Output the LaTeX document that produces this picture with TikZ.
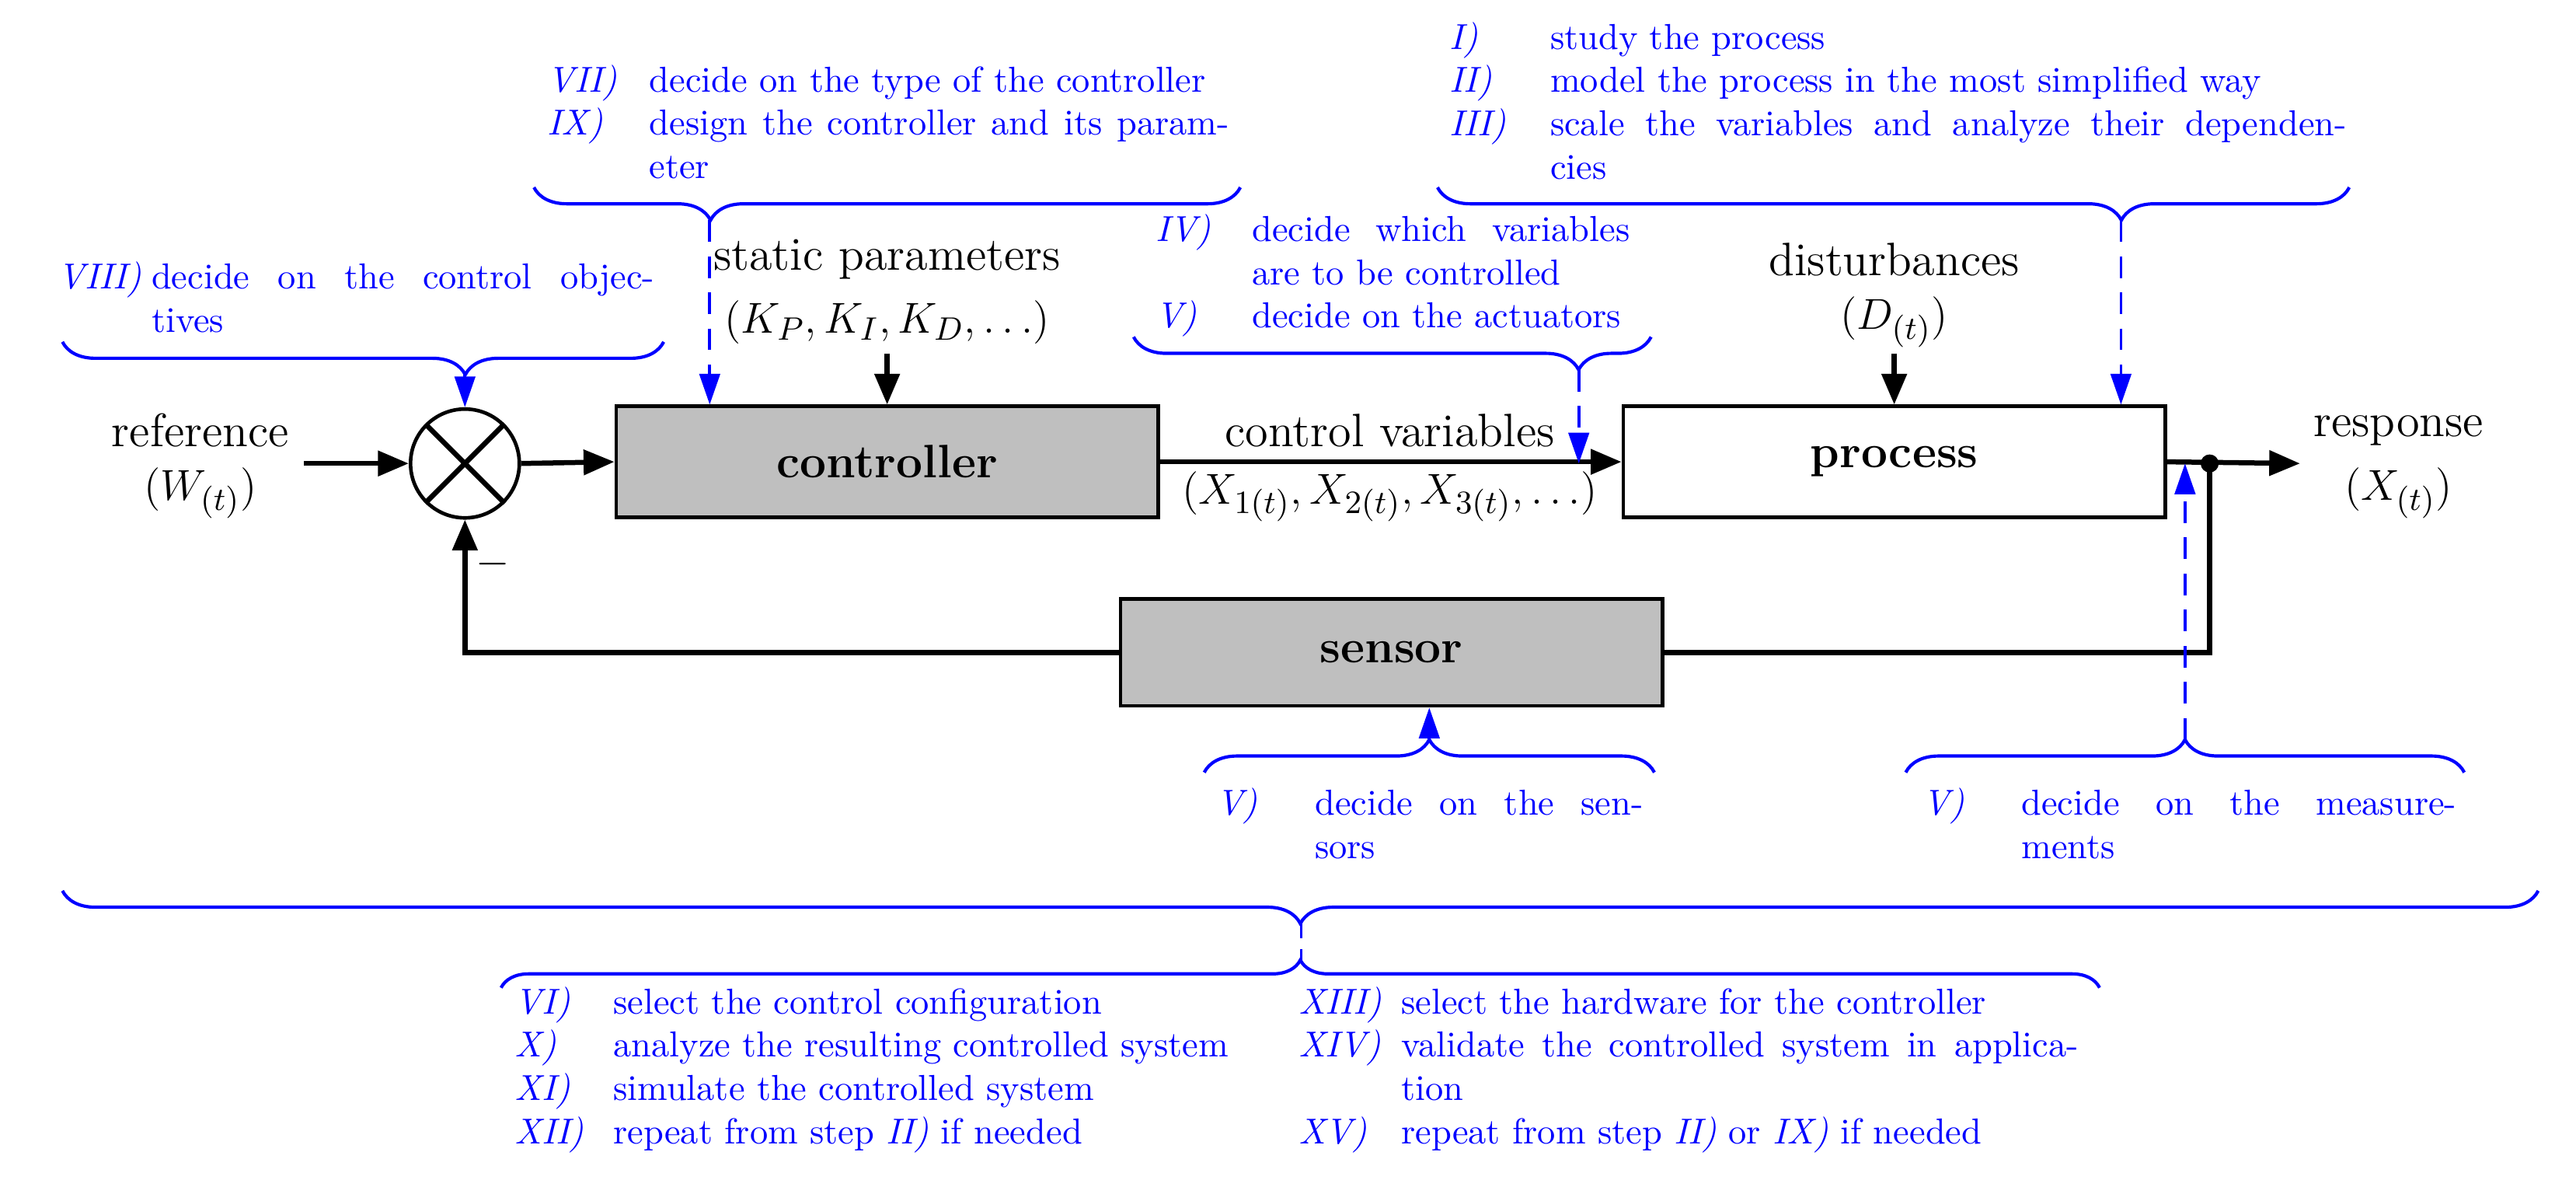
\documentclass[tikz,border=0pt]{standalone}
\usetikzlibrary{arrows.meta,decorations.pathreplacing}
\begin{document}
\begin{tikzpicture}[x=0.016cm,y=-0.016cm,
  blk/.style={draw,line width=1pt,minimum width=52.8mm,minimum height=10.8mm,font=\fontsize{13}{15}\selectfont\bfseries},
  sig/.style={line width=1.4pt,-{Triangle[length=3mm,width=2.4mm]}},
  hint/.style={blue,line width=0.8pt,dash pattern=on 6pt off 4pt,-{Triangle[length=3mm,width=2mm]}},
  brc/.style={blue,line width=0.9pt,decorate,decoration={brace,amplitude=3.2mm}},
  lbl/.style={font=\fontsize{13}{15}\selectfont,inner sep=0pt},
  note/.style={blue,anchor=north west,inner sep=0pt,align=left}]
\useasboundingbox (0,0) rectangle (1568,718);
\newcommand{\nm}[1]{\textit{#1}}

% blocks
\node[circle,draw,line width=1pt,minimum size=10.6mm,inner sep=0pt] (sum) at (283,282) {};
\draw[line width=1.4pt] (sum.north west) -- (sum.south east) (sum.north east) -- (sum.south west);
\node[blk,fill=black!25] (ctrl) at (540,281) {controller};
\node[blk,fill=white] (proc) at (1153,281) {process};
\node[blk,fill=black!25,minimum height=10.4mm] (sens) at (847,397) {sensor};

% texts
\node[lbl] (ref) at (122,262) {reference};
\node[lbl] (refw) at (122,300) {$(W_{(t)})$};
\node[lbl] (stp) at (540,158) {static parameters};
\node[lbl] (stpk) at (540,196) {$(K_P,K_I,K_D,\ldots)$};
\node[lbl] (cv) at (846,262) {control variables};
\node[lbl] (cvx) at (846,302) {$(X_{1(t)},X_{2(t)},X_{3(t)},\ldots)$};
\node[lbl] (dist) at (1153,158) {disturbances};
\node[lbl] (distd) at (1153,196) {$(D_{(t)})$};
\node[lbl] (resp) at (1460,262) {response};
\node[lbl] (respx) at (1460,300) {$(X_{(t)})$};
\node[lbl] (minus) at (300,343) {$-$};

% signal paths
\coordinate (in) at (185,282);
\coordinate (out) at (1400,282);
\coordinate (tap) at (1345,282);
\coordinate (kin) at (540,215);
\coordinate (din) at (1153,215);
\draw[sig] (in) -- (sum.west);
\draw[sig] (sum.east) -- (ctrl.west);
\draw[sig] (ctrl.east) -- (proc.west);
\draw[sig] (proc.east) -- (out);
\draw[sig] (kin) -- (ctrl.north);
\draw[sig] (din) -- (proc.north);
\fill (tap) circle (2.5pt);
\draw[line width=1.4pt] (tap) |- (sens.east);
\draw[sig] (sens.west) -| (sum.south);

% notes
\node[note] (n1) at (333,37) {\begin{tabular}{@{}p{9.9mm}@{}p{56.5mm}@{}}
\nm{VII)} & decide on the type of the controller\\
\nm{IX)} & design the controller and its param-\linebreak eter
\end{tabular}};
\node[note] (n2) at (882,11) {\begin{tabular}{@{}p{9.8mm}@{}p{77.6mm}@{}}
\nm{I)} & study the process\\
\nm{II)} & model the process in the most simplified way\\
\nm{III)} & scale the variables and analyze their dependen-\linebreak cies
\end{tabular}};
\node[note] (n3) at (35,157) {\begin{tabular}{@{}p{9.1mm}@{}p{49mm}@{}}
\nm{VIII)} & decide on the control objec-\linebreak tives
\end{tabular}};
\node[note] (n4) at (703,128) {\begin{tabular}{@{}p{9.4mm}@{}p{36.8mm}@{}}
\nm{IV)} & decide which variables are to be controlled\\
\nm{V)} & decide on the actuators
\end{tabular}};
\node[note] (n5) at (740,477) {\begin{tabular}{@{}p{9.6mm}@{}p{32mm}@{}}
\nm{V)} & decide on the sen-\linebreak sors
\end{tabular}};
\node[note] (n6) at (1170,477) {\begin{tabular}{@{}p{9.6mm}@{}p{42.4mm}@{}}
\nm{V)} & decide on the measure-\linebreak ments
\end{tabular}};
\node[note] (n7) at (313,598) {\begin{tabular}{@{}p{9.6mm}@{}p{64.3mm}@{}}
\nm{VI)} & select the control configuration\\
\nm{X)} & analyze the resulting controlled system\\
\nm{XI)} & simulate the controlled system\\
\nm{XII)} & repeat from step \nm{II)} if needed
\end{tabular}};
\node[note] (n8) at (790,598) {\begin{tabular}{@{}p{10mm}@{}p{66mm}@{}}
\nm{XIII)} & select the hardware for the controller\\
\nm{XIV)} & validate the controlled system in applica-\linebreak tion\\
\nm{XV)} & repeat from step \nm{II)} or \nm{IX)} if needed
\end{tabular}};

% braces
\draw[brc,decoration={mirror,aspect=0.25}] (325,114) -- (755,114);
\draw[brc,decoration={mirror,aspect=0.75}] (875,114) -- (1430,114);
\draw[brc,decoration={mirror,aspect=0.67}] (38,208) -- (404,208);
\draw[brc,decoration={mirror,aspect=0.86}] (690,205) -- (1005,205);
\draw[brc,decoration={aspect=0.5}] (733,470) -- (1007,470);
\draw[brc,decoration={aspect=0.5}] (1160,470) -- (1500,470);
\draw[brc,decoration={mirror,aspect=0.5}] (38,542) -- (1545,542);
\draw[brc,decoration={aspect=0.5,amplitude=2.7mm}] (305,601) -- (1278,601);

\coordinate (t1) at (432,134);
\coordinate (t2) at (1291,134);
\coordinate (t3) at (283,228);
\coordinate (t4) at (961,225);
\coordinate (t5) at (870,450);
\coordinate (t6) at (1330,450);
\coordinate (t7) at (792,562);
\coordinate (t8) at (792,584);
\coordinate (c4) at (961,282);
\coordinate (c6) at (1330,282);
\draw[hint] (t1) -- (t1 |- ctrl.north);
\draw[hint] (t2) -- (t2 |- proc.north);
\draw[hint] (t3) -- (sum.north);
\draw[hint] (t4) -- (c4);
\draw[hint] (t5) -- (t5 |- sens.south);
\draw[hint] (t6) -- (c6);
\draw[blue,line width=0.8pt,dash pattern=on 4pt off 3pt] (t7) -- (t8);
\end{tikzpicture}
\end{document}
